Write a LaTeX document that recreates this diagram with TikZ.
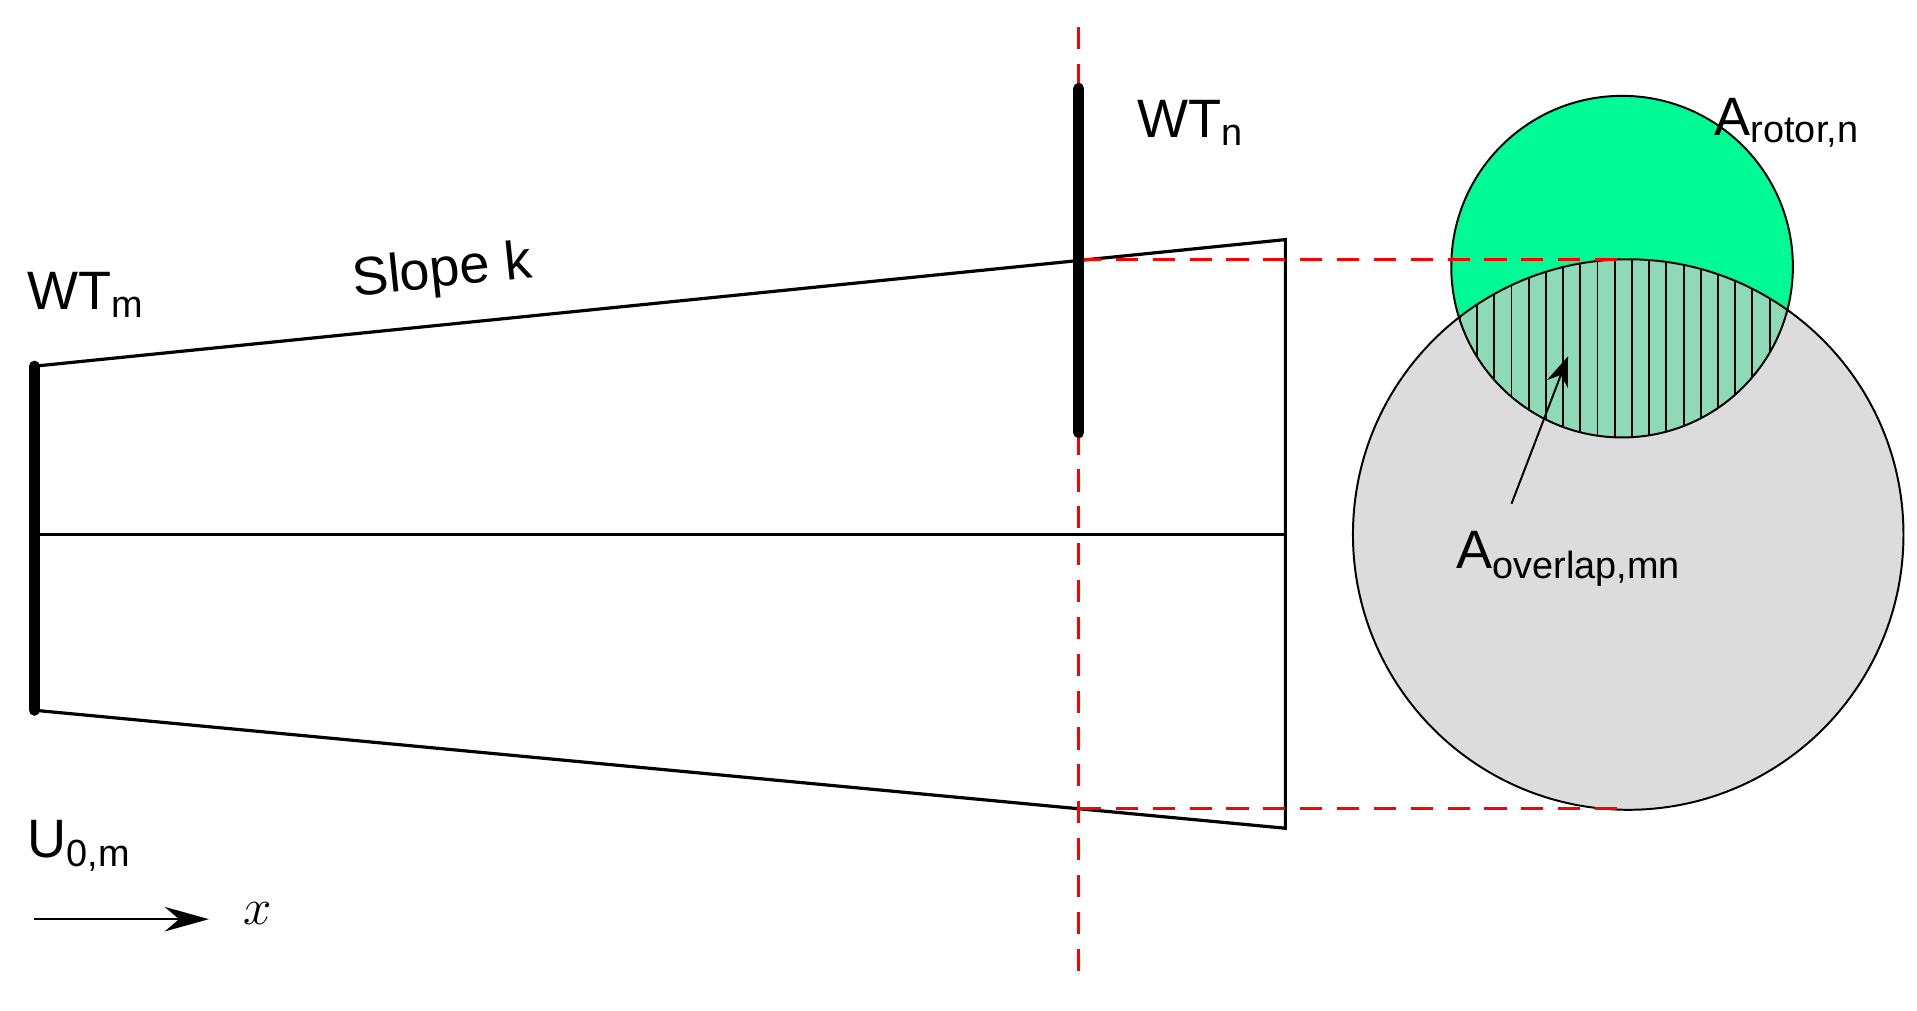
\documentclass[tikz,border=0pt]{standalone}
\usepackage{fontspec}
\setmainfont{Liberation Sans}
\usetikzlibrary{arrows.meta}
\definecolor{rotorgreen}{HTML}{00FA96}
\definecolor{overlapgreen}{HTML}{8ED9B8}
\definecolor{wakegray}{HTML}{DCDCDC}
\tikzset{
  bar/.style={line width=4.5pt,line cap=round},
  wake/.style={line width=1.3pt},
  reddash/.style={red,line width=1.2pt,dash pattern=on 9pt off 6pt},
  lbl/.style={font=\fontsize{22}{26}\selectfont,inner sep=0pt},
}
\begin{document}
\begin{tikzpicture}[x=0.5pt,y=-0.5pt]
\useasboundingbox (0,0) rectangle (1560,822);
% coordinates
\coordinate (mt) at (28,298); \coordinate (mb) at (28,578);
\coordinate (rt) at (1046,195); \coordinate (rb) at (1046,674);
\coordinate (mc) at (28,435); \coordinate (rc) at (1046,435);
\coordinate (nt) at (878,72); \coordinate (nb) at (878,352);
\coordinate (vt) at (878,22); \coordinate (vb) at (878,800);
\coordinate (hu) at (878,211); \coordinate (hue) at (1325,211);
\coordinate (hl) at (878,658); \coordinate (hle) at (1325,658);
% circles
\fill[wakegray] (1325,435) circle[radius=224];
\fill[rotorgreen] (1320,217) circle[radius=139];
\begin{scope}
  \clip (1325,435) circle[radius=224];
  \fill[overlapgreen] (1320,217) circle[radius=139];
  \clip (1320,217) circle[radius=139];
  \foreach \xx in {1188,1202,...,1460} \draw[line width=0.8pt] (\xx,200) -- (\xx,360);
\end{scope}
\draw[line width=0.8pt] (1325,435) circle[radius=224];
\draw[line width=0.8pt] (1320,217) circle[radius=139];
% wake
\draw[wake] (mt) -- (rt) -- (rb) -- (mb);
\draw[wake] (mc) -- (rc);
\draw[reddash] (vt) -- (vb);
\draw[reddash] (hu) -- (hue);
\draw[reddash] (hl) -- (hle);
\draw[bar] (mt) -- (mb);
\draw[bar] (nt) -- (nb);
% labels
\node[lbl,anchor=west] (wtm) at (22,240) {WT\textsubscript{m}};
\node[lbl,rotate=6] (slope) at (360,222) {Slope k};
\node[lbl,anchor=west] (wtn) at (925,100) {WT\textsubscript{n}};
\node[lbl,anchor=west] (arot) at (1395,100) {A\textsubscript{rotor,n}};
\node[lbl,anchor=west] (aov) at (1185,455) {A\textsubscript{overlap,mn}};
\draw[-{Stealth[length=12pt]},line width=0.8pt] (1230,410) -- (1276,290);
\node[lbl,anchor=west] (u0) at (22,688) {U\textsubscript{0,m}};
\coordinate (xa) at (28,748); \coordinate (xb) at (170,748);
\draw[-{Stealth[length=18pt,width=10pt]},line width=0.9pt] (xa) -- (xb);
\node[font=\fontsize{22}{26}\selectfont\itshape\rmfamily] (xl) at (210,743) {$x$};
\end{tikzpicture}
\end{document}
